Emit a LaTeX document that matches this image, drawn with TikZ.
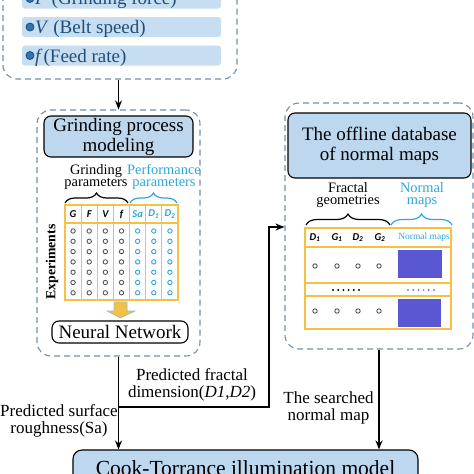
\documentclass[tikz,border=0pt]{standalone}
\usepackage{fontspec}
\setmainfont{Liberation Serif}
\newfontfamily\hdrfont{Carlito}
\usetikzlibrary{arrows.meta,decorations.pathreplacing,calc}
\definecolor{lblue}{HTML}{BDD7EE}
\definecolor{dashc}{HTML}{7090AE}
\definecolor{dblue}{HTML}{1F4E79}
\definecolor{bullc}{HTML}{2E75B6}
\definecolor{cyanc}{HTML}{2CA8DC}
\definecolor{yelc}{HTML}{F4C145}
\definecolor{purc}{HTML}{5A57D2}
\begin{document}
\begin{tikzpicture}[x=1pt,y=-1pt,
 dbox/.style={draw=dashc,dash pattern=on 6pt off 4pt,line width=1.1pt,rounded corners=14pt,inner sep=0},
 tbox/.style={draw=black,line width=1.1pt,fill=lblue,rounded corners=7pt,inner sep=0,align=center,font=\fontsize{19}{20}\selectfont},
 itembar/.style={fill=lblue!85,rounded corners=3pt,minimum width=199pt,minimum height=20pt,inner sep=0},
 bull/.style={circle,fill=bullc,draw=dblue,line width=0.8pt,minimum size=8pt,inner sep=0},
 itxt/.style={anchor=base west,text=dblue,font=\fontsize{19}{20}\selectfont,inner sep=0},
 arr/.style={line width=1.3pt,-{Stealth[length=9pt,width=7pt]}},
 lbl/.style={align=center,font=\fontsize{17}{17}\selectfont,inner sep=0},
 smalltxt/.style={align=center,font=\fontsize{14.4}{12.5}\selectfont,inner sep=0},
 brc/.style={decorate,decoration={brace,amplitude=10pt},line width=1.2pt},
 brcbig/.style={decorate,decoration={brace,amplitude=11pt},line width=1.2pt},
 tline/.style={draw=yelc,line width=1.2pt},
 hdr/.style={font=\hdrfont\bfseries\itshape\fontsize{10.5}{11}\selectfont,inner sep=0},
 ocir/.style={line width=0.9pt},
]
\useasboundingbox (0,0) rectangle (474,474);
\clip (0,0) rectangle (474,474);

% ---- input box ----
\node[dbox,minimum width=234pt,minimum height=130pt] (inbox) at (120,14) {};
\node[itembar] (barF) at (121.5,-1.5) {};
\node[itembar] (barV) at (121.5,27) {};
\node[itembar] (barf) at (121.5,55.5) {};
\node[bull] (bF) at (30,-1.5) {};
\node[bull] (bV) at (30,27) {};
\node[bull] (bf) at (30,55.5) {};
\node[itxt] (tF) at (35,4.5) {\textit{F} (Grinding force)};
\node[itxt] (tV) at (35,33) {\textit{V} (Belt speed)};
\node[itxt] (tf) at (35,62) {\textit{f\,}(Feed rate)};

% ---- grinding process box ----
\node[dbox,minimum width=163pt,minimum height=246pt] (gbox) at (118.5,233) {};
\node[tbox,minimum width=149pt,minimum height=41pt] (gtitle) at (118.5,136.5) {Grinding process\\modeling};
\node[smalltxt] (gpar) at (96,177) {Grinding\\parameters};
\node[smalltxt,text=cyanc] (ppar) at (164,177) {Performance\\parameters};
\draw[brc] (65,203) -- (128,203);
\draw[brc,cyanc] (130,203) -- (177,203);

% table
\draw[tline] (65,205) rectangle (178,300);
\draw[tline] (65,223) -- (178,223);
\foreach \k in {1,...,6} \draw[tline] ({65+16.143*\k},205) -- ({65+16.143*\k},300);
\foreach \t [count=\i] in {G,F,V,f}
  \node[hdr] (lh\i) at ({65+16.143*(\i-0.5)},214) {\t};
\foreach \t [count=\i from 5] in {Sa,{D\textsubscript{1}},{D\textsubscript{2}}}
  \node[hdr,text=cyanc] (lh\i) at ({65+16.143*(\i-0.5)},214) {\t};
\foreach \c in {0,...,3} \foreach \r in {0,...,6}
  \draw[ocir,draw=black!65] ({65+16.143*(\c+0.5)},{231+10.3*\r}) circle (2.2pt);
\foreach \c in {4,...,6} \foreach \r in {0,...,6}
  \draw[ocir,draw=cyanc] ({65+16.143*(\c+0.5)},{231+10.3*\r}) circle (2.2pt);
\node[rotate=90,font=\bfseries\fontsize{13.8}{14}\selectfont,inner sep=0] (exp) at (52,262) {Experiments};
\draw[fill=yelc,draw=lblue!70!bullc,line width=0.6pt] (114,302) -- (127,302) -- (127,311) -- (135,311) -- (120.5,318) -- (107,311) -- (114,311) -- cycle;
\node[draw=black,line width=1.1pt,rounded corners=7pt,fill=white,minimum width=136pt,minimum height=22pt,inner sep=0,font=\fontsize{19}{20}\selectfont] (nn) at (120,332) {Neural Network};

% ---- database box ----
\node[dbox,minimum width=188pt,minimum height=246pt] (rbox) at (379,226) {};
\node[tbox,minimum width=183pt,minimum height=65pt] (rtitle) at (379.5,145.5) {The offline database\\of normal maps};
\node[smalltxt] (fgeo) at (348,195) {Fractal\\geometries};
\node[smalltxt,text=cyanc] (nmaps) at (422,195) {Normal\\maps};
\draw[brcbig] (306,225) -- (390,225);
\draw[brcbig,cyanc] (391,225) -- (452,225);
\draw[tline] (305,228) rectangle (451,329);
\draw[tline] (305,247) -- (451,247);
\draw[tline] (305,283) -- (451,283);
\draw[tline] (305,296) -- (451,296);
\foreach \t/\x [count=\i] in {{D\textsubscript{1}}/315,{G\textsubscript{1}}/337,{D\textsubscript{2}}/358,{G\textsubscript{2}}/380}
  \node[hdr] (rh\i) at (\x,237.5) {\t};
\node[text=cyanc,font=\fontsize{9.5}{10}\selectfont,inner sep=0] (rh5) at (424,237.5) {Normal maps};
\foreach \x in {315,337,358,379} {
  \draw[ocir,draw=black!70] (\x,266) circle (2.2pt);
  \draw[ocir,draw=black!70] (\x,311) circle (2.2pt);
}
\fill[purc] (398,250) rectangle (442,278);
\fill[purc] (398,299) rectangle (441,327);
\foreach \k in {0,...,5} {
  \fill[black] ({333+5.2*\k},290) circle (1.1pt);
  \fill[purc!80] ({408+5.2*\k},290) circle (1.1pt);
}

% ---- bottom box ----
\node[draw=black,line width=1.1pt,fill=lblue,rounded corners=9pt,minimum width=345pt,minimum height=60pt,inner sep=0] (cook) at (245.5,480) {};
\node[font=\fontsize{21.5}{22}\selectfont,anchor=base,inner sep=0] (cooktxt) at (245.5,475) {Cook-Torrance illumination model};

% ---- connectors ----
\draw[arr] (gbox.north |- inbox.south) -- (gbox.north);
\draw[arr] (gbox.south) -- (gbox.south |- cook.north);
\coordinate (split) at (118.5,407);
\coordinate (turn) at (269,407);
\coordinate (up) at (269,227);
\draw[arr] (split) -- (turn) -- (up) -- (up -| rbox.west);
\draw[arr] (rbox.south) -- (rbox.south |- cook.north);

\node[lbl,align=center,font=\fontsize{17}{16.5}\selectfont] (lfd) at (192,385) {Predicted fractal\\dimension(\textit{D1},\textit{D2})};
\node[lbl,font=\fontsize{17}{17.5}\selectfont] (lsr) at (59,421) {Predicted surface\\roughness(Sa)};
\node[lbl] (lsn) at (328.5,407.5) {The searched\\normal map};
\end{tikzpicture}
\end{document}
